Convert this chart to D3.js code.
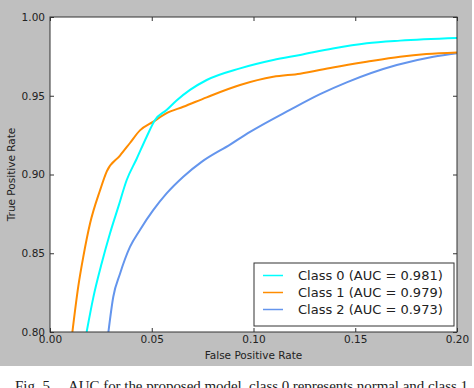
<!DOCTYPE html>
<html>
<head>
<meta charset="utf-8">
<style>
  body { margin: 0; background: #fff; }
  svg { display: block; }
  text { font-family: "DejaVu Sans", sans-serif; }
</style>
</head>
<body>
<div id="chart"></div>
<script src="https://d3js.org/d3.v7.min.js"></script>
<script>
  // data
  const classNames = ["Class 0 (AUC = 0.981)", "Class 1 (AUC = 0.979)", "Class 2 (AUC = 0.973)"];
  const classColors = ["#00ffff", "#ff8c00", "#6495ed"];

  const fpr0 = [0.018, 0.0213, 0.0254, 0.0295, 0.0336, 0.0377, 0.0426, 0.0475, 0.0516, 0.0573, 0.0622, 0.0688, 0.077, 0.0934, 0.1097, 0.1229, 0.139, 0.1556, 0.172, 0.2];
  const tpr0 = [0.80, 0.822, 0.8436, 0.8627, 0.8796, 0.8965, 0.910, 0.924, 0.9346, 0.941, 0.947, 0.9537, 0.960, 0.9674, 0.9727, 0.9759, 0.980, 0.9833, 0.985, 0.9867];

  const fpr1 = [0.011, 0.0139, 0.0164, 0.0197, 0.0246, 0.0279, 0.0344, 0.0393, 0.0442, 0.0508, 0.0573, 0.0655, 0.077, 0.0934, 0.1097, 0.1229, 0.139, 0.1556, 0.172, 0.185, 0.2];
  const tpr1 = [0.80, 0.829, 0.848, 0.869, 0.890, 0.902, 0.912, 0.920, 0.928, 0.9336, 0.939, 0.943, 0.949, 0.9568, 0.962, 0.964, 0.968, 0.9716, 0.9748, 0.9765, 0.9775];

  const fpr2 = [0.0287, 0.0311, 0.0344, 0.0393, 0.0442, 0.0508, 0.0573, 0.0655, 0.0745, 0.0885, 0.0983, 0.1179, 0.1327, 0.1458, 0.1704, 0.1884, 0.2];
  const tpr2 = [0.80, 0.8224, 0.837, 0.854, 0.8648, 0.8775, 0.888, 0.8986, 0.908, 0.919, 0.927, 0.941, 0.951, 0.9585, 0.9695, 0.9748, 0.977];

  const xTicks = [0.00, 0.05, 0.10, 0.15, 0.20];
  const yTicks = [0.80, 0.85, 0.90, 0.95, 1.00];

  const captionLead = "Fig. 5.";
  const captionRest = "AUC for the proposed model. class 0 represents normal and class 1";

  const W = 474, H = 388;
  const margin = { top: 17, right: 17, bottom: 56, left: 50 };
  const width = W - margin.left - margin.right;
  const height = H - margin.top - margin.bottom;

  const svg = d3.select("#chart").append("svg")
    .attr("width", W)
    .attr("height", H);

  // grey figure background, white caption strip below
  svg.append("rect").attr("x", 0).attr("y", 0).attr("width", 472).attr("height", 366).attr("fill", "#bfbfbf");

  const g = svg.append("g")
    .attr("transform", "translate(" + margin.left + "," + margin.top + ")");

  const x = d3.scaleLinear().domain([0, 0.2]).range([0, width]);
  const y = d3.scaleLinear().domain([0.8, 1.0]).range([height, 0]);

  g.append("rect").attr("width", width).attr("height", height).attr("fill", "#fff");

  g.append("clipPath").attr("id", "clip")
    .append("rect").attr("width", width).attr("height", height);

  const series = [
    { f: fpr0, t: tpr0 },
    { f: fpr1, t: tpr1 },
    { f: fpr2, t: tpr2 }
  ];

  const line = d3.line()
    .x(d => x(d[0]))
    .y(d => y(d[1]))
    .curve(d3.curveMonotoneX);

  // draw class 2 first, then 1, then 0 on top
  [2, 1, 0].forEach(i => {
    const pts = series[i].f.map((v, k) => [v, series[i].t[k]]);
    g.append("path")
      .attr("clip-path", "url(#clip)")
      .attr("d", line(pts))
      .attr("fill", "none")
      .attr("stroke", classColors[i])
      .attr("stroke-width", 2);
  });

  // axes, ticks pointing inward on all four sides
  const fmt = d3.format(".2f");
  const styleAxis = sel => {
    sel.select(".domain").remove();
    sel.selectAll("line").attr("stroke", "#333");
    sel.selectAll("text").attr("fill", "#222").style("font-size", "10.5px");
  };

  g.append("g").attr("transform", "translate(0," + height + ")")
    .call(d3.axisBottom(x).tickValues(xTicks).tickFormat(fmt).tickSizeInner(-4).tickPadding(4))
    .call(styleAxis);
  g.append("g")
    .call(d3.axisTop(x).tickValues(xTicks).tickFormat("").tickSizeInner(-4))
    .call(styleAxis);
  g.append("g")
    .call(d3.axisLeft(y).tickValues(yTicks).tickFormat(fmt).tickSizeInner(-4).tickPadding(5))
    .call(styleAxis);
  g.append("g").attr("transform", "translate(" + width + ",0)")
    .call(d3.axisRight(y).tickValues(yTicks).tickFormat("").tickSizeInner(-4))
    .call(styleAxis);

  g.append("rect").attr("width", width).attr("height", height)
    .attr("fill", "none").attr("stroke", "#333").attr("stroke-width", 1);

  // axis labels
  g.append("text")
    .attr("x", width / 2).attr("y", height + 27)
    .attr("text-anchor", "middle")
    .attr("fill", "#222")
    .style("font-size", "10.5px")
    .text("False Positive Rate");

  g.append("text")
    .attr("transform", "rotate(-90)")
    .attr("x", -height / 2).attr("y", -35.5)
    .attr("text-anchor", "middle")
    .attr("fill", "#222")
    .style("font-size", "10.5px")
    .text("True Positive Rate");

  // legend, lower right
  const lg = g.append("g").attr("transform", "translate(" + (width - 203) + "," + (height - 69) + ")");
  lg.append("rect").attr("width", 200).attr("height", 63)
    .attr("fill", "#fff").attr("stroke", "#333").attr("stroke-width", 1);
  classNames.forEach((name, i) => {
    const cy = 12.5 + i * 17;
    lg.append("line").attr("x1", 9).attr("x2", 29).attr("y1", cy).attr("y2", cy)
      .attr("stroke", classColors[i]).attr("stroke-width", 1.5);
    lg.append("text").attr("x", 44).attr("y", cy).attr("dy", "0.36em")
      .attr("fill", "#222").style("font-size", "13px").text(name);
  });

  // caption, cut off by the bottom edge as in the source
  const cap = svg.append("g")
    .attr("fill", "#222")
    .style("font-family", "'Liberation Serif', serif")
    .style("font-size", "15px");
  cap.append("text").attr("x", 15).attr("y", 391)
    .style("font-family", "'Liberation Serif', serif")
    .text(captionLead);
  cap.append("text").attr("x", 68).attr("y", 391)
    .style("font-family", "'Liberation Serif', serif")
    .attr("textLength", 400).attr("lengthAdjust", "spacing")
    .text(captionRest);
</script>
</body>
</html>
